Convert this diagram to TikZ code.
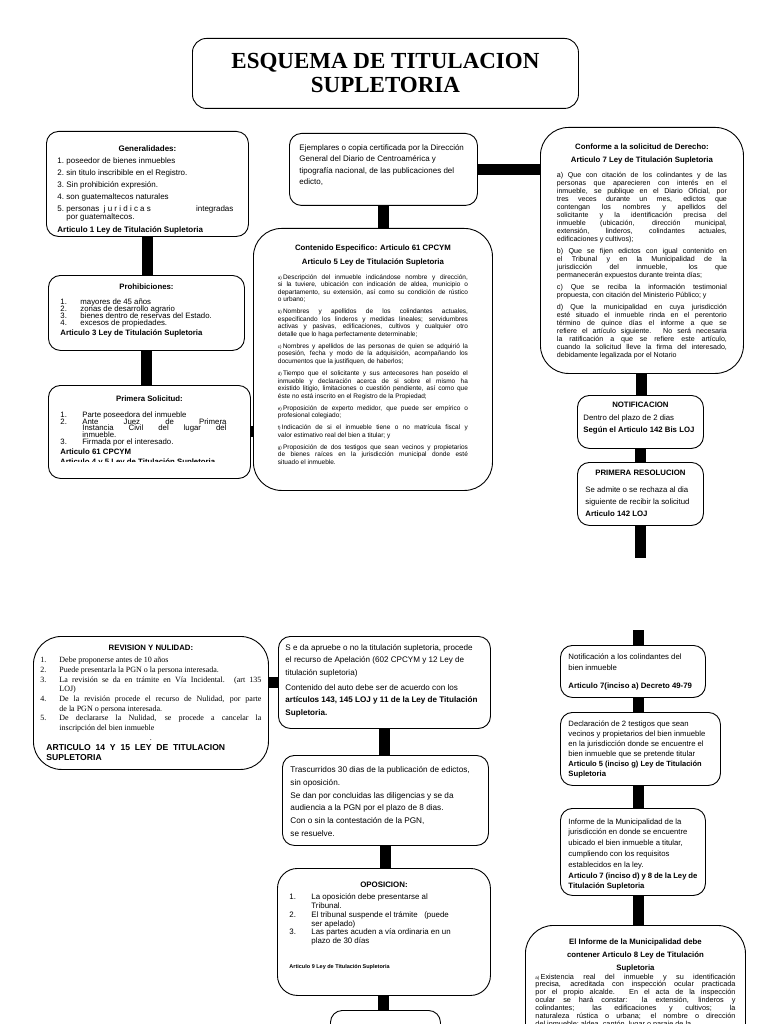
\documentclass[tikz,border=0pt]{standalone}
\usepackage{fontspec}
\setmainfont{Liberation Sans}
\newfontfamily\serifrm{Liberation Serif}
\usetikzlibrary{positioning}

\tikzset{
  box/.style={draw, line width=0.9pt, rounded corners=12pt, inner ysep=0pt, anchor=north west},
  bigbox/.style={box, rounded corners=28pt},
  bar/.style={line width=11pt},
}
% font sizes
\newcommand{\tight}{\lineskiplimit=-20pt\lineskip=0pt}
\newcommand{\dense}[2]{\fontsize{#1}{#2}\selectfont\sloppy\hyphenpenalty=10000}
\newcommand{\lab}[1]{{\fontsize{4.5}{5}\selectfont #1)}\,}
% list item with hanging label
\newcommand{\itm}[3][10pt]{\par\noindent\hangindent=#1\hangafter=1\makebox[#1][l]{#2}#3\par}

\begin{document}
\begin{tikzpicture}[x=1pt, y=-1pt]
\clip (0,0) rectangle (768,1024);

% title
\node[box, rounded corners=14pt, inner sep=0pt, minimum width=386pt, minimum height=70pt,
  align=center, font=\serifrm\bfseries\fontsize{23}{24}\selectfont] (title) at (192,38)
  {\raisebox{-2pt}{ESQUEMA DE TITULACION}\\\raisebox{-2pt}{SUPLETORIA}};

% left column
\node[box, inner xsep=11pt] (gen) at (46,131) {\parbox[c][105pt][t]{180pt}{\tight\fontsize{8}{7}\selectfont
  \setlength{\parskip}{4.8pt}
  \vspace*{9pt}
  {\centering\bfseries Generalidades:\par}
  \vspace{1pt}
  \itm[9pt]{1.}{poseedor de bienes inmuebles}
  \itm[9pt]{2.}{sin titulo inscribible en el Registro.}
  \itm[9pt]{3.}{Sin prohibición expresión.}
  \itm[9pt]{4.}{son guatemaltecos naturales}
  \itm[9pt]{5.}{personas \ j u r i d i c a s \hfill integradas\hspace*{4pt}\\[1pt] por guatemaltecos.}
  \vspace{2pt}
  \textbf{Articulo 1 Ley de Titulación Supletoria}}};

\node[box, inner xsep=12pt] (proh) at (48,275) {\parbox[c][75pt][t]{172pt}{\tight\fontsize{7.8}{6.8}\selectfont
  \vspace*{8pt}
  {\centering\bfseries\fontsize{7.8}{8}\selectfont Prohibiciones:\par}
  \vspace{9pt}
  \itm[20pt]{1.}{mayores de 45 años}
  \itm[20pt]{2.}{zonas de desarrollo agrario}
  \itm[20pt]{3.}{bienes dentro de reservas del Estado.}
  \itm[20pt]{4.}{excesos de propiedades.}
  \vspace{3.5pt}
  \textbf{Articulo 3 Ley de Titulación Supletoria}}};

\node[box, inner xsep=12pt] (prim) at (48,385) {\parbox[c][93pt][t]{178pt}{\tight\fontsize{7.8}{6.6}\selectfont
  \vspace*{10pt}
  {\centering\bfseries\fontsize{7.8}{8}\selectfont Primera Solicitud:\par}
  \vspace{10pt}
  \rightskip=12pt
  \itm[22pt]{1.}{Parte poseedora del inmueble}
  \itm[22pt]{2.}{Ante Juez de Primera \linebreak Instancia Civil del lugar del \linebreak inmueble.}
  \itm[22pt]{3.}{Firmada por el interesado.}
  \vspace{4pt}
  \textbf{Articulo 61 CPCYM}}};
\begin{scope}
  \clip (prim.west |- 0,440) rectangle (prim.east |- 0,461);
  \node[anchor=base west, inner xsep=12pt, font=\bfseries\fontsize{7.8}{8}\selectfont] (primcut) at (prim.west |- 0,464)
    {Articulo 4 y 5 Ley de Titulación Supletoria};
\end{scope}

% centre column, top
\node[box, inner xsep=10pt] (ejem) at (289,133) {\parbox[c][72pt][t]{168pt}{\fontsize{8}{11.4}\selectfont
  \vspace*{11pt}
  Ejemplares o copia certificada por la Dirección\\
  General del Diario de Centroamérica y\\
  tipografía nacional, de las publicaciones del\\
  edicto,}};

\node[bigbox, inner xsep=24.5pt] (cont) at (253,228) {\parbox[c][262pt][t]{190pt}{\dense{6.5}{7.5}
  \vspace*{16pt}
  {\centering\bfseries\fontsize{7.8}{14}\selectfont Contenido Especifico: Articulo 61 CPCYM\\
   Articulo 5 Ley de Titulación Supletoria\par}
  \vspace{3pt}
  \setlength{\parskip}{4.6pt}
  \lab{a}Descripción del inmueble indicándose nombre y dirección, \linebreak si la tuviere, ubicación con indicación de aldea, municipio o \linebreak departamento, su extensión, así como su condición de rústico \linebreak o urbano;\par
  \lab{b}Nombres y apellidos de los colindantes actuales, \linebreak especificando los linderos y medidas lineales; servidumbres \linebreak activas y pasivas, edificaciones, cultivos y cualquier otro \linebreak detalle que lo haga perfectamente determinable;\par
  \lab{c}Nombres y apellidos de las personas de quien se adquirió la \linebreak posesión, fecha y modo de la adquisición, acompañando los \linebreak documentos que la justifiquen, de haberlos;\par
  \lab{d}Tiempo que el solicitante y sus antecesores han poseído el \linebreak inmueble y declaración acerca de si sobre el mismo ha \linebreak existido litigio, limitaciones o cuestión pendiente, así como que \linebreak éste no está inscrito en el Registro de la Propiedad;\par
  \lab{e}Proposición de experto medidor, que puede ser empírico o \linebreak profesional colegiado;\par
  \lab{f}Indicación de si el inmueble tiene o no matrícula fiscal y \linebreak valor estimativo real del bien a titular; y\par
  \lab{g}Proposición de dos testigos que sean vecinos y propietarios \linebreak de bienes raíces en la jurisdicción municipal donde esté \linebreak situado el inmueble.}};

% right column, top
\node[bigbox, inner xsep=16.5pt] (conf) at (540,127) {\parbox[c][246pt][t]{170pt}{\dense{7.1}{8}
  \vspace*{16pt}
  {\centering\bfseries\fontsize{7.8}{13}\selectfont Conforme a la solicitud de Derecho:\\
   Articulo 7 Ley de Titulación Supletoria\par}
  \vspace{3pt}
  \setlength{\parskip}{4pt}
  a) Que con citación de los colindantes y de las \linebreak personas que aparecieren con interés en el \linebreak inmueble, se publique en el Diario Oficial, por \linebreak tres veces durante un mes, edictos que \linebreak contengan los nombres y apellidos del \linebreak solicitante y la identificación precisa del \linebreak inmueble (ubicación, dirección municipal, \linebreak extensión, linderos, colindantes actuales, \linebreak edificaciones y cultivos);\par
  b) Que se fijen edictos con igual contenido en \linebreak el Tribunal y en la Municipalidad de la \linebreak jurisdicción del inmueble, los que \linebreak permanecerán expuestos durante treinta días;\par
  c) Que se reciba la información testimonial \linebreak propuesta, con citación del Ministerio Público; y\par
  d) Que la municipalidad en cuya jurisdicción \linebreak esté situado el inmueble rinda en el perentorio \linebreak término de quince días el informe a que se \linebreak refiere el artículo siguiente. No será necesaria \linebreak la ratificación a que se refiere este artículo, \linebreak cuando la solicitud lleve la firma del interesado, \linebreak debidamente legalizada por el Notario}};

\node[box, inner xsep=6pt] (notif) at (577,395) {\parbox[c][53pt][t]{114pt}{\fontsize{7.8}{12.5}\selectfont
  \vspace*{7pt}
  {\centering\bfseries NOTIFICACION\par}
  Dentro del plazo de 2 dias\\
  \textbf{Según el Articulo 142 Bis LOJ}}};

\node[box, inner xsep=8pt] (resol) at (577,462) {\parbox[c][63pt][t]{110pt}{\fontsize{7.8}{12}\selectfont
  \vspace*{8pt}
  {\centering\bfseries PRIMERA RESOLUCION\par}
  \vspace{5pt}
  Se admite o se rechaza al dia\\
  siguiente de recibir la solicitud\\
  \textbf{Articulo 142 LOJ}}};
\coordinate (cutA) at (resol.south |- 0,558);

% lower part
\node[bigbox, inner xsep=7pt] (rev) at (33,636) {\parbox[c][133pt][t]{221pt}{\serifrm\fontsize{8}{9.7}\selectfont
  \vspace*{9pt}
  {\centering\rmfamily\bfseries\fontsize{7.8}{8}\selectfont REVISION Y NULIDAD:\par}
  \vspace{2pt}
  \itm[19pt]{1.}{Debe proponerse antes de 10 años}
  \itm[19pt]{2.}{Puede presentarla la PGN o la persona interesada.}
  \itm[19pt]{3.}{La revisión se da en trámite en Vía Incidental. (art 135 \linebreak LOJ)}
  \itm[19pt]{4.}{De la revisión procede el recurso de Nulidad, por parte \linebreak de la PGN o persona interesada.}
  \itm[19pt]{5.}{De declararse la Nulidad, se procede a cancelar la \linebreak inscripción del bien inmueble}
  {\centering .\par}
  {\rmfamily\bfseries\fontsize{8.6}{10}\selectfont \hspace*{6pt}ARTICULO \ 14 \ Y \ 15 \ LEY \ DE \ TITULACION\\ \hspace*{6pt}SUPLETORIA\par}}};

\node[box, inner xsep=7pt] (apel) at (278,636) {\parbox[c][92pt][t]{198pt}{\fontsize{8.1}{12.5}\selectfont
  \vspace*{8pt}
  S e da apruebe o no la titulación supletoria, procede\\
  el recurso de Apelación (602 CPCYM y 12 Ley de\\
  titulación supletoria)\\[2.5pt]
  Contenido del auto debe ser de acuerdo con los\\
  \textbf{artículos 143, 145 LOJ y 11 de la Ley de Titulación\\
  Supletoria.}}};

\node[box, inner xsep=8pt] (trasc) at (282,755) {\parbox[c][90pt][t]{190pt}{\fontsize{8.2}{12.8}\selectfont
  \vspace*{11pt}
  Trascurridos 30 dias de la publicación de edictos,\\
  sin oposición.\\
  Se dan por concluidas las diligencias y se da\\
  audiencia a la PGN por el plazo de 8 dias.\\
  Con o sin la contestación de la PGN,\\
  se resuelve.}};

\node[bigbox, rounded corners=20pt, inner xsep=12pt] (opos) at (277,868) {\parbox[c][127pt][t]{189pt}{\fontsize{7.9}{8.8}\selectfont
  \vspace*{14pt}
  {\centering\bfseries OPOSICION:\par}
  \vspace{3pt}
  \itm[22pt]{1.}{La oposición debe presentarse al\\ Tribunal.}
  \itm[22pt]{2.}{El tribunal suspende el trámite \ \ (puede\\ ser apelado)}
  \itm[22pt]{3.}{Las partes acuden a vía ordinaria en un\\ plazo de 30 días}
  \vspace{19pt}
  {\bfseries\fontsize{5.5}{6}\selectfont Articulo 9 Ley de Titulación Supletoria\par}}};

\node[box, minimum width=110pt, minimum height=60pt] (last) at (330,1010) {};

\coordinate (cutB) at (638,630);
\node[box, inner xsep=8pt] (ncol) at (560,645) {\parbox[c][52pt][t]{129pt}{\fontsize{7.8}{11}\selectfont
  \vspace*{8pt}
  Notificación a los colindantes del\\
  bien inmueble\\[7pt]
  \textbf{Articulo 7(inciso a) Decreto 49-79}}};

\node[box, inner xsep=5pt] (decl) at (560,712) {\parbox[c][73pt][t]{150pt}{\fontsize{7.7}{10}\selectfont
  \vspace*{8pt}
  \hspace*{3pt}Declaración de 2 testigos que sean\\
  \hspace*{3pt}vecinos y propietarios del bien inmueble\\
  \hspace*{3pt}en la jurisdicción donde se encuentre el\\
  \hspace*{3pt}bien inmueble que se pretende titular\\
  \hspace*{3pt}\textbf{\fontsize{7.5}{10}\selectfont Articulo 5 (inciso g) Ley de Titulación}\\
  \hspace*{3pt}\textbf{Supletoria}}};

\node[box, inner xsep=8pt] (inf) at (560,808) {\parbox[c][87pt][t]{129pt}{\fontsize{7.7}{10.8}\selectfont
  \vspace*{10pt}
  Informe de la Municipalidad de la\\
  jurisdicción en donde se encuentre\\
  ubicado el bien inmueble a titular,\\
  cumpliendo con los requisitos\\
  establecidos en la ley.\\
  \textbf{Articulo 7 (inciso d) y 8 de la Ley de\\
  Titulación Supletoria}}};

\node[bigbox, inner xsep=10pt] (einf) at (525,925) {\parbox[c][140pt][t]{200pt}{\dense{7.3}{7.9}
  \vspace*{13pt}
  {\centering\bfseries\fontsize{7.8}{13}\selectfont El Informe de la Municipalidad debe\\
   contener Articulo 8 Ley de Titulación\\ Supletoria\par}
  \vspace{1pt}
  \lab{a}Existencia real del inmueble y su identificación \linebreak precisa, acreditada con inspección ocular practicada \linebreak por el propio alcalde. En el acta de la inspección \linebreak ocular se hará constar: la extensión, linderos y \linebreak colindantes; las edificaciones y cultivos; la \linebreak naturaleza rústica o urbana; el nombre o dirección \linebreak del inmueble; aldea, cantón, lugar o paraje de la}};

% connectors
\draw[bar] (gen.south) -- (gen.south |- proh.north);
\draw[bar] (proh.south) -- (proh.south |- prim.north);
\draw[bar] (prim.east) -- (prim.east -| cont.west);
\draw[bar] (ejem.south) -- (ejem.south |- cont.north);
\draw[bar] (ejem.east) -- (ejem.east -| conf.west);
\draw[bar] (conf.south) -- (conf.south |- notif.north);
\draw[bar] (notif.south) -- (notif.south |- resol.north);
\draw[bar] (resol.south) -- (cutA);
\draw[bar] (rev.east |- apel.west) -- (apel.west);
\draw[bar] (apel.south) -- (apel.south |- trasc.north);
\draw[bar] (trasc.south) -- (trasc.south |- opos.north);
\draw[bar] (opos.south) -- (opos.south |- last.north);
\draw[bar] (cutB) -- (cutB |- ncol.north);
\draw[bar] (cutB |- ncol.south) -- (cutB |- decl.north);
\draw[bar] (cutB |- decl.south) -- (cutB |- inf.north);
\draw[bar] (cutB |- inf.south) -- (cutB |- einf.north);
\end{tikzpicture}
\end{document}
